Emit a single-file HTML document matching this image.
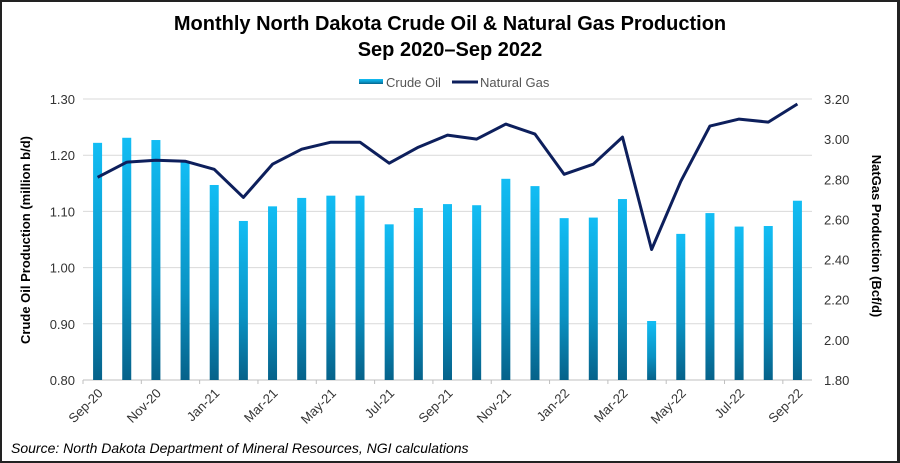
<!DOCTYPE html>
<html><head><meta charset="utf-8"><style>
html,body{margin:0;padding:0;background:#fff}
#wrap{position:relative;width:900px;height:463px;box-sizing:border-box;border:2px solid #222;border-right-width:3px;background:#fff;font-family:"Liberation Sans",sans-serif}
</style></head><body>
<div id="wrap">
<svg id="chart" width="896" height="459" style="position:absolute;left:0;top:0"></svg>
</div>
<script>
const categories=["Sep-20","Oct-20","Nov-20","Dec-20","Jan-21","Feb-21","Mar-21","Apr-21","May-21","Jun-21","Jul-21","Aug-21","Sep-21","Oct-21","Nov-21","Dec-21","Jan-22","Feb-22","Mar-22","Apr-22","May-22","Jun-22","Jul-22","Aug-22","Sep-22"];
const oilValues=[1.222,1.231,1.227,1.188,1.147,1.083,1.109,1.124,1.128,1.128,1.077,1.106,1.113,1.111,1.158,1.145,1.088,1.089,1.122,0.905,1.060,1.097,1.073,1.074,1.119];
const gasValues=[2.81,2.885,2.895,2.89,2.85,2.71,2.875,2.95,2.985,2.985,2.88,2.96,3.02,3.00,3.075,3.025,2.825,2.875,3.01,2.45,2.79,3.065,3.10,3.085,3.175];
const leftTicks=["0.80","0.90","1.00","1.10","1.20","1.30"];
const rightTicks=["1.80","2.00","2.20","2.40","2.60","2.80","3.00","3.20"];
const NS="http://www.w3.org/2000/svg";
const svg=document.getElementById('chart');
const X0=81,X1=810,Y0=378,Y1=97;
const bw=(X1-X0)/categories.length;
function xC(i){return X0+bw*(i+0.5);}
function yL(v){return Y0-(v-0.8)/(1.3-0.8)*(Y0-Y1);}
function yR(v){return Y0-(v-1.8)/(3.2-1.8)*(Y0-Y1);}
function mk(t,a,txt){const e=document.createElementNS(NS,t);for(const k in a)e.setAttribute(k,a[k]);if(txt!=null)e.textContent=txt;svg.appendChild(e);return e;}
const defs=mk('defs',{});
defs.innerHTML='<linearGradient id="bg" x1="0" y1="0" x2="0" y2="1"><stop offset="0" stop-color="#12bdf4"/><stop offset="0.6" stop-color="#0a93c4"/><stop offset="1" stop-color="#06628a"/></linearGradient>';
let e;
e=mk('text',{x:448,y:28,'text-anchor':'middle','font-size':20,'font-weight':'bold',fill:'#000'},'Monthly North Dakota Crude Oil & Natural Gas Production');

e=mk('text',{x:448,y:54,'text-anchor':'middle','font-size':20,'font-weight':'bold',fill:'#000'},'Sep 2020–Sep 2022');

// legend
e=mk('rect',{x:357,y:77,width:24,height:5,fill:'url(#bg)'});

e=mk('text',{x:384,y:85,'font-size':13,fill:'#555'},'Crude Oil');

e=mk('line',{x1:450,y1:80,x2:476,y2:80,stroke:'#0d1f5c','stroke-width':3});

e=mk('text',{x:478,y:85,'font-size':13,fill:'#555'},'Natural Gas');

// gridlines & ticks
leftTicks.forEach(t=>{const y=yL(+t);
 e=mk('line',{x1:X0,y1:y,x2:X1,y2:y,stroke:'#d9d9d9','stroke-width':1});
 
 e=mk('text',{x:73,y:y+5,'text-anchor':'end','font-size':13,fill:'#333'},t);
 });
rightTicks.forEach(t=>{const y=yR(+t);
 e=mk('text',{x:822,y:y+5,'font-size':13,fill:'#333'},t);
 });
e=mk('line',{x1:X0,y1:Y0,x2:X1,y2:Y0,stroke:'#bfbfbf','stroke-width':1});

// bars
oilValues.forEach((v,i)=>{
 const b=mk('rect',{x:xC(i)-4.5,y:yL(v),width:9,height:Y0-yL(v),fill:'url(#bg)'});
 
 
});
// x labels
categories.forEach((c,i)=>{
 if(i%2) return;
 const tx=X0+bw*i;
 const tk=mk('line',{x1:tx,y1:Y0,x2:tx,y2:Y0+4,stroke:'#bfbfbf'});
 
 const x=xC(i)+6,y=Y0+14;
 const l=mk('text',{x:x,y:y,'text-anchor':'end','font-size':13,fill:'#333',transform:`rotate(-45 ${x} ${y})`},c);
 
 
});
// gas line
const pts=gasValues.map((v,i)=>xC(i).toFixed(1)+','+yR(v).toFixed(1)).join(' ');
e=mk('polyline',{points:pts,fill:'none',stroke:'#0d1f5c','stroke-width':3,'stroke-linejoin':'round'});

// axis titles
e=mk('text',{x:0,y:0,'text-anchor':'middle','font-size':13,'font-weight':'bold',fill:'#000',transform:'translate(28 238) rotate(-90)'},'Crude Oil Production (million b/d)');

e=mk('text',{x:0,y:0,'text-anchor':'middle','font-size':13,'font-weight':'bold',fill:'#000',transform:'translate(870 234) rotate(90)'},'NatGas Production (Bcf/d)');

e=mk('text',{x:9,y:451,'font-size':14,'font-style':'italic',fill:'#000'},'Source: North Dakota Department of Mineral Resources, NGI calculations');

</script>
</body></html>
